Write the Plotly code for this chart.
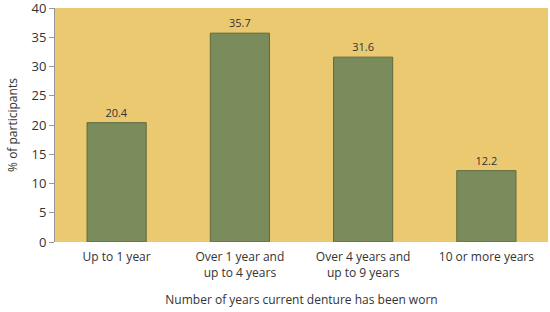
import plotly.graph_objects as go

categories = ["Up to 1 year", "Over 1 year and<br>up to 4 years", "Over 4 years and<br>up to 9 years", "10 or more years"]
values = [20.4, 35.7, 31.6, 12.2]
y_ticks = [0, 5, 10, 15, 20, 25, 30, 35, 40]

font = "Open Sans"
fig = go.Figure(go.Bar(
    x=categories, y=values, width=0.48,
    marker=dict(color="#7A8B5C", line=dict(color="#5E6A40", width=1)),
    text=[f"{v:.1f}" for v in values], textposition="outside",
    textfont=dict(family=font, size=11, color="#333333"),
    cliponaxis=False, hoverinfo="skip",
))
fig.update_layout(
    width=550, height=312,
    margin=dict(l=55, r=2, t=8, b=70, autoexpand=False),
    paper_bgcolor="white", plot_bgcolor="#EBC971",
    showlegend=False,
    font=dict(family=font, size=12, color="#333333"),
    bargap=0.52,
)
fig.update_yaxes(range=[0, 40], tickvals=y_ticks, showgrid=False, zeroline=False,
                 showline=True, linecolor="#999999", linewidth=1,
                 ticks="outside", ticklen=5, tickcolor="#999999",
                 automargin=False, ticklabeloverflow="allow",
                 title=dict(text="% of participants", font=dict(size=12), standoff=11),
                 tickfont=dict(size=13))
fig.update_xaxes(showgrid=False, showline=False, ticks="", tickfont=dict(size=12),
                 automargin=False, ticklabelstandoff=6,
                 title=dict(text="Number of years current denture has been worn", font=dict(size=12), standoff=16))
fig.write_html("out.html", config={"displayModeBar": False},
               post_script="document.body.style.margin='0';")
